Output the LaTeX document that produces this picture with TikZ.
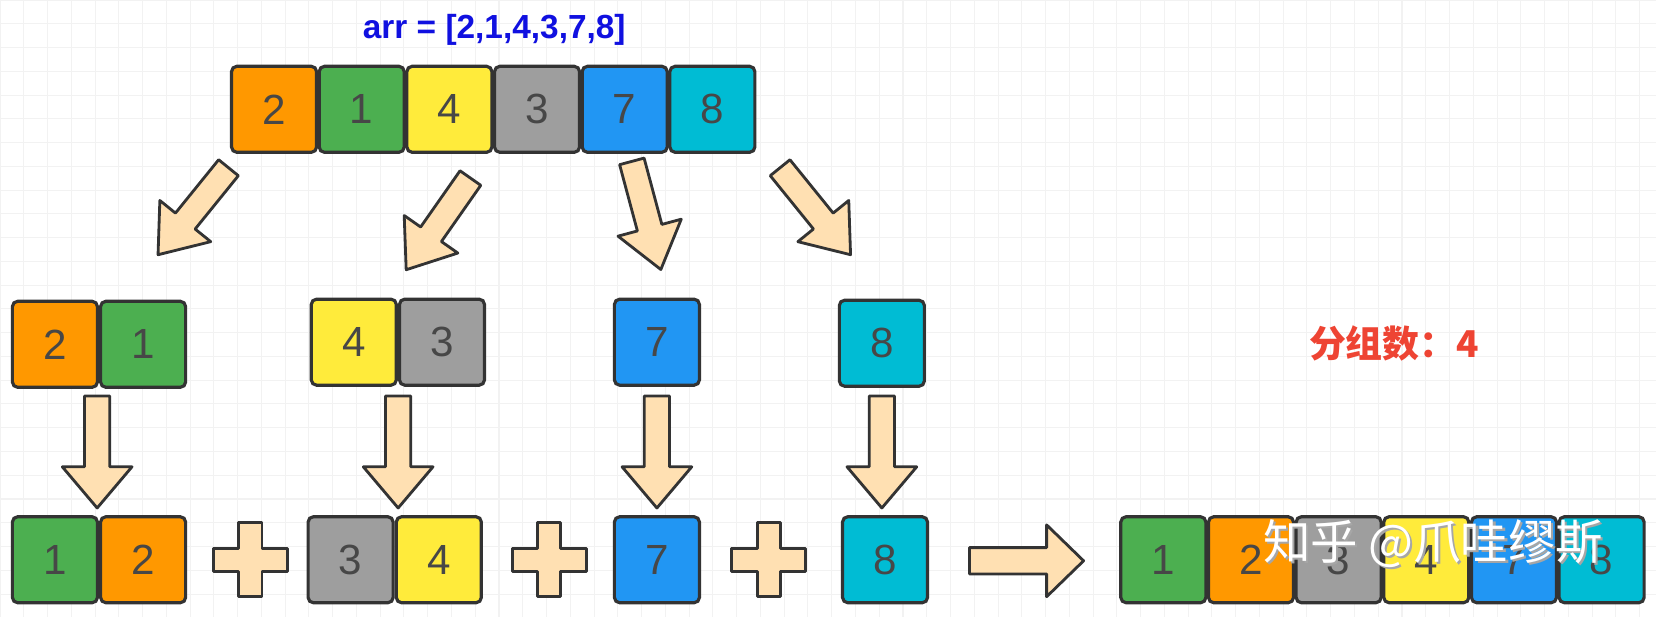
\documentclass[tikz,border=0pt]{standalone}
\usepackage{fontspec}
\setmainfont{Liberation Sans}
\newfontfamily\cjk{Noto Sans CJK SC}
\usetikzlibrary{positioning,calc,shadows}

\definecolor{cOrange}{HTML}{FF9800}
\definecolor{cGreen}{HTML}{4CAF50}
\definecolor{cYellow}{HTML}{FFEB3B}
\definecolor{cGrey}{HTML}{9E9E9E}
\definecolor{cBlue}{HTML}{2196F3}
\definecolor{cCyan}{HTML}{00BCD4}
\definecolor{cBeige}{HTML}{FFE0B2}
\definecolor{cLine}{HTML}{333333}
\definecolor{cTitle}{HTML}{1010E0}
\definecolor{cRed}{HTML}{EE4433}

\tikzset{
    cell/.style={rectangle, draw=cLine, line width=1.8pt, rounded corners=3pt,
        minimum width=1.70cm, minimum height=1.72cm, inner sep=0pt,
        font=\fontsize{24}{28}\selectfont, text=cLine!90},
    barrow/.pic={
        \draw[fill=cBeige, draw=cLine, line width=1.6pt, line join=round]
        (-\alen,-\ashaft) -- (\ahead,-\ashaft) -- (\ahead,-\awide) -- (\alen,0)
        -- (\ahead,\awide) -- (\ahead,\ashaft) -- (-\alen,\ashaft) -- cycle;
    },
    plus/.pic={
        \draw[fill=cBeige, draw=cLine, line width=1.6pt, line join=round]
        (-11,-35) -- (11,-35) -- (11,-11) -- (35,-11) -- (35,11) -- (11,11)
        -- (11,35) -- (-11,35) -- (-11,11) -- (-35,11) -- (-35,-11) -- (-11,-11) -- cycle;
    }
}
\newcommand{\alen}{53}
\newcommand{\ashaft}{12}
\newcommand{\awide}{31}
\newcommand{\ahead}{12}

\begin{document}
\begin{tikzpicture}[x=0.02112cm, y=-0.02112cm]
    \useasboundingbox (0,0) rectangle (1568,584);
    % grid
    \fill[white] (0,0) rectangle (1568,584);
    \foreach \gx in {0,22.5,...,1568} \draw[gray!10, line width=0.6pt] (\gx,0) -- (\gx,584);
    \foreach \gy in {0,22.5,...,584} \draw[gray!10, line width=0.6pt] (0,\gy) -- (1568,\gy);

    % title
    \node[font=\bfseries\fontsize{19}{22}\selectfont, text=cTitle] (title) at (468,28) {arr = [2,1,4,3,7,8]};

    % top row
    \foreach \n/\c [count=\i] in {2/cOrange,1/cGreen,4/cYellow,3/cGrey,7/cBlue,8/cCyan}
        \node[cell, fill=\c] (top\i) at ({218+41.5+83*(\i-1)},103.5) {\n};

    % split arrows
    \pic[rotate=231] at (183,200) {barrow};
    \pic[rotate=235] at (415,212) {barrow};
    \pic[rotate=-75] at (612,204) {barrow};
    \pic[rotate=-51] at (772,200) {barrow};

    % groups
    \node[cell, fill=cOrange] (ga1) at (52,326) {2};
    \node[cell, fill=cGreen, right=0pt of ga1] (ga2) {1};
    \node[cell, fill=cYellow] (gb1) at (335,324) {4};
    \node[cell, fill=cGrey, right=0pt of gb1] (gb2) {3};
    \node[cell, fill=cBlue] (gc1) at (622,324) {7};
    \node[cell, fill=cCyan] (gd1) at (835,325) {8};

    \node[font=\fontsize{21}{24}\selectfont, text=cRed] (count) at (1320,325) {\cjk\bfseries 分组数：4};

    % sort arrows
    \renewcommand{\alen}{53}\renewcommand{\ashaft}{12}\renewcommand{\awide}{33}\renewcommand{\ahead}{14}
    \foreach \ax in {92,377,622,835}
        \pic[rotate=-90] at (\ax,428) {barrow};

    % sorted groups
    \node[cell, fill=cGreen] (sa1) at (52,530) {1};
    \node[cell, fill=cOrange, right=0pt of sa1] (sa2) {2};
    \node[cell, fill=cGrey] (sb1) at (332,530) {3};
    \node[cell, fill=cYellow, right=0pt of sb1] (sb2) {4};
    \node[cell, fill=cBlue] (sc1) at (622,530) {7};
    \node[cell, fill=cCyan] (sd1) at (838,530) {8};

    \pic at (237,530) {plus};
    \pic at (520,530) {plus};
    \pic at (728,530) {plus};

    % merge arrow
    \renewcommand{\alen}{54}\renewcommand{\ashaft}{12.5}\renewcommand{\awide}{34}\renewcommand{\ahead}{19}
    \pic at (972,531) {barrow};

    % result row
    \foreach \n/\c [count=\i] in {1/cGreen,2/cOrange,3/cGrey,4/cYellow,7/cBlue,8/cCyan}
        \node[cell, fill=\c] (res\i) at ({1060+41.5+83*(\i-1)},530) {\n};

    % watermark
    \node[font=\cjk\fontsize{27}{30}\selectfont, text=gray!70] at (1359,517) {知乎 @爪哇缪斯};
    \node[font=\cjk\fontsize{27}{30}\selectfont, text=white] (mark) at (1357,515) {知乎 @爪哇缪斯};
\end{tikzpicture}
\end{document}
